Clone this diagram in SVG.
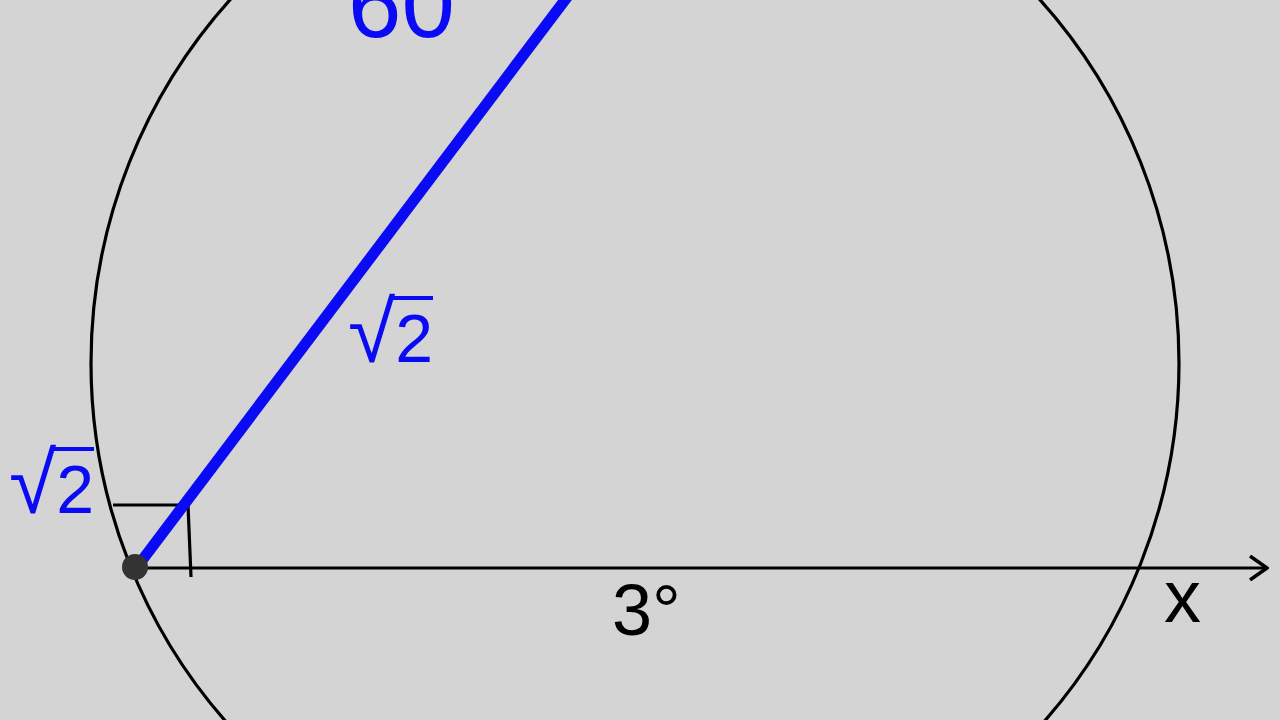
<svg xmlns="http://www.w3.org/2000/svg" width="1280" height="720" viewBox="0 0 1280 720">
<defs>
<style>
.blk{fill:none;stroke:#000;stroke-width:3.2}
.lbl{font-family:"Liberation Sans",Arial,sans-serif}
.blue{fill:#0a0af5}
.bar{stroke:#0a0af5;stroke-width:4}
.dark{fill:#000}
</style>
<marker id="arr" viewBox="0 0 20 26" refX="18" refY="13" markerWidth="20" markerHeight="26" markerUnits="userSpaceOnUse" orient="auto">
<path d="M1,1 L18,13 L1,25" fill="none" stroke="#000" stroke-width="3.5"/>
</marker>
</defs>
<rect width="1280" height="720" fill="#d4d4d4"/>
<g id="circle"><circle cx="635" cy="363" r="544" class="blk"/></g>
<g id="connectors">
<line x1="135" y1="568" x2="1267" y2="568" class="blk" marker-end="url(#arr)"/>
<polyline points="113,505 188,505 191,577" class="blk"/>
<line x1="137" y1="567" x2="571" y2="-8" stroke="#0a0af5" stroke-width="11"/>
</g>
<g id="dot"><circle cx="135" cy="567" r="13" fill="#333"/></g>
<g id="labels">
<text class="lbl blue" x="348" y="37" font-size="96">60</text>
<text class="lbl blue" x="348" y="362"><tspan font-size="86">√</tspan><tspan font-size="68">2</tspan></text>
<text class="lbl blue" x="9" y="513"><tspan font-size="86">√</tspan><tspan font-size="68">2</tspan></text>
<line class="bar" x1="392" y1="298" x2="433" y2="298"/>
<line class="bar" x1="53" y1="449" x2="94" y2="449"/>
<text class="lbl dark" x="612" y="635" font-size="72">3°</text>
<text class="lbl dark" x="1164" y="622" font-size="74">x</text>
</g>
</svg>
